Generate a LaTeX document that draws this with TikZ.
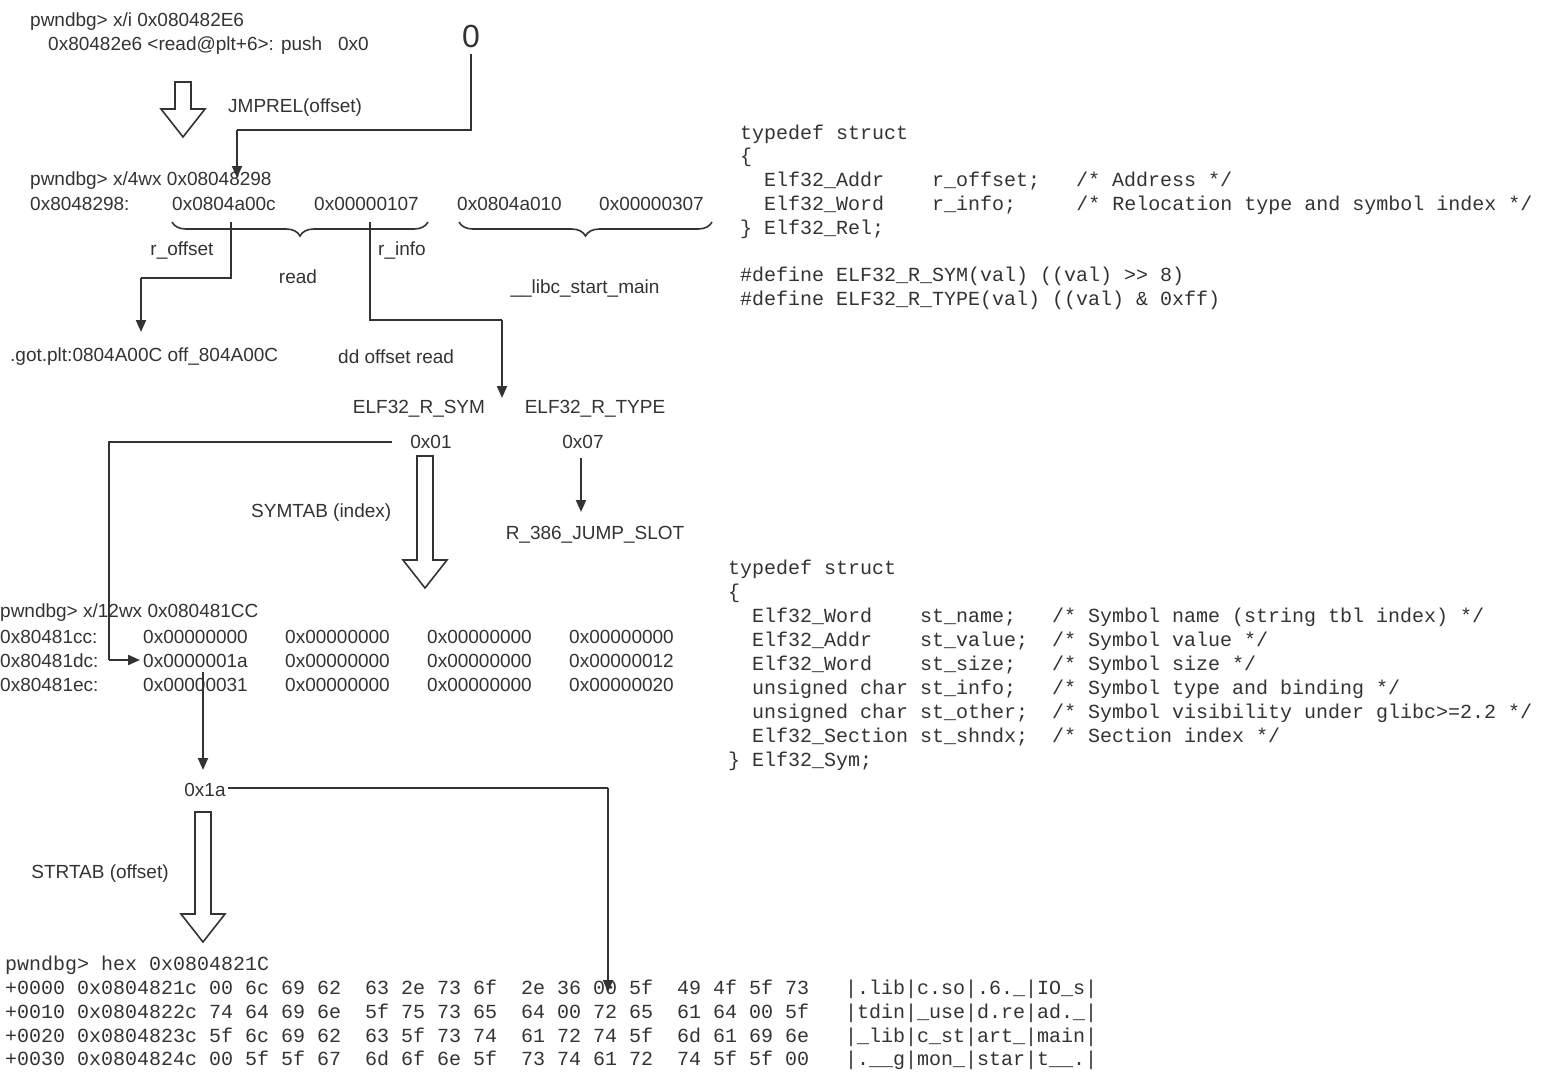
\documentclass[tikz,border=0pt]{standalone}
\usepackage{fontspec}
\setmainfont{Liberation Sans}
\newfontfamily\mono{Liberation Mono}
\usetikzlibrary{arrows.meta,decorations.pathreplacing}
\begin{document}
\begin{tikzpicture}[x=1pt,y=-1pt,
  t/.style={anchor=west,inner sep=0,font=\fontsize{19}{19}\selectfont,text=black!80},
  c/.style={t,anchor=center},
  m/.style={anchor=west,inner sep=0,font=\mono\fontsize{20}{20}\selectfont,text=black!80},
  ln/.style={draw=black!80,line width=2pt},
  ar/.style={ln,-{Triangle[length=12pt,width=10pt]}},
  br/.style={draw=black!80,line width=1.6pt,decorate,decoration={brace,mirror,amplitude=14pt}}]
\useasboundingbox (0,0) rectangle (1551,1073);
\newcommand\hollow[3]{% x, ytop, ybottom
  \draw[draw=black!80,line width=1.6pt,fill=white] (#1-8,#2) -- (#1+8,#2) -- (#1+8,#3-28) -- (#1+22,#3-28) -- (#1,#3) -- (#1-22,#3-28) -- (#1-8,#3-28) -- cycle;}
% top
\node[t] (l1) at (30,22) {pwndbg> x/i 0x080482E6};
\node[t] (l2) at (48,46) {0x80482e6 <read@plt+6>: push~~~0x0};
\node[c,font=\fontsize{32}{32}\selectfont] (zero) at (471,36) {0};
\hollow{183}{82}{137}
\node[t] (jmp) at (228,108) {JMPREL(offset)};
\coordinate (j1) at (471,130); \coordinate (j2) at (237,130); \coordinate (j3) at (237,178);
\draw[ln] (zero.south) ++(0,6) -- (j1) -- (j2);
\draw[ar] (j2) -- (j3);
\node[t] (x4) at (30,181) {pwndbg> x/4wx 0x08048298};
\node[t] (a0) at (30,204) {0x8048298:};
\node[t] (v1) at (172,204) {0x0804a00c};
\node[t] (v2) at (314,204) {0x00000107};
\node[t] (v3) at (457,204) {0x0804a010};
\node[t] (v4) at (599,204) {0x00000307};
\draw[br] (172,222) -- (428,222);
\draw[br] (459,222) -- (712,222);
\node[c] (roff) at (182,251) {r\_offset};
\node[c] (read) at (298,277) {read};
\node[c] (rinf) at (402,251) {r\_info};
\node[c] (libc) at (585,289) {\_\_libc\_start\_main};
\coordinate (o1) at (231,222); \coordinate (o2) at (231,278); \coordinate (o3) at (141,278); \coordinate (o4) at (141,332);
\draw[ln] (o1) -- (o2) -- (o3); \draw[ar] (o3) -- (o4);
\coordinate (i1) at (370,222); \coordinate (i2) at (370,320); \coordinate (i3) at (502,320); \coordinate (i4) at (502,398);
\draw[ln] (i1) -- (i2) -- (i3); \draw[ar] (i3) -- (i4);
\node[t] (got) at (10,357) {.got.plt:0804A00C off\_804A00C};
\node[t] (dd) at (338,357) {dd offset read};
\node[c] (sym) at (419,409) {ELF32\_R\_SYM};
\node[c] (typ) at (595,409) {ELF32\_R\_TYPE};
\node[c] (s01) at (431,442) {0x01};
\node[c] (s07) at (583,442) {0x07};
\node[c] (jmps) at (595,535) {R\_386\_JUMP\_SLOT};
\coordinate (r7) at (581,512);
\draw[ar] (581,458) -- (r7);
\hollow{425}{456}{588}
\node[t] (symtab) at (251,513) {SYMTAB (index)};
\coordinate (y1) at (392,442); \coordinate (y2) at (109,442); \coordinate (y3) at (109,660); \coordinate (y4) at (140,660);
\draw[ln] (y1) -- (y2) -- (y3); \draw[ar] (y3) -- (y4);
% symtab dump
\node[t] (x12) at (0,613) {pwndbg> x/12wx 0x080481CC};
\foreach \y/\a/\b/\c/\d/\e [count=\i] in {637/0x80481cc:/0x00000000/0x00000000/0x00000000/0x00000000,
  661/0x80481dc:/0x0000001a/0x00000000/0x00000000/0x00000012,
  685/0x80481ec:/0x00000031/0x00000000/0x00000000/0x00000020}{
  \node[t] (sa\i) at (0,\y) {\a};
  \node[t] (sb\i) at (143,\y) {\b};
  \node[t] (sc\i) at (285,\y) {\c};
  \node[t] (sd\i) at (427,\y) {\d};
  \node[t] (se\i) at (569,\y) {\e};}
\coordinate (q1) at (203,672); \coordinate (q2) at (203,770);
\draw[ar] (q1) -- (q2);
\node[c] (x1a) at (205,790) {0x1a};
\coordinate (p1) at (228,788); \coordinate (p2) at (608,788); \coordinate (p3) at (608,992);
\draw[ln] (p1) -- (p2); \draw[ar] (p2) -- (p3);
\hollow{203}{812}{942}
\node[c] (strtab) at (100,874) {STRTAB (offset)};
% hex dump
\node[m] (h0) at (5,965) {pwndbg> hex 0x0804821C};
\node[m] (h1) at (5,989) {+0000 0x0804821c~00 6c 69 62~~63 2e 73 6f~~2e 36 00 5f~~49 4f 5f 73~~~|.lib|c.so|.6.\_|IO\_s|};
\node[m] (h2) at (5,1013) {+0010 0x0804822c~74 64 69 6e~~5f 75 73 65~~64 00 72 65~~61 64 00 5f~~~|tdin|\_use|d.re|ad.\_|};
\node[m] (h3) at (5,1037) {+0020 0x0804823c~5f 6c 69 62~~63 5f 73 74~~61 72 74 5f~~6d 61 69 6e~~~|\_lib|c\_st|art\_|main|};
\node[m] (h4) at (5,1060) {+0030 0x0804824c~00 5f 5f 67~~6d 6f 6e 5f~~73 74 61 72~~74 5f 5f 00~~~|.\_\_g|mon\_|star|t\_\_.|};
% struct Rel
\node[m] (r1) at (740,134) {typedef struct};
\node[m] (r2) at (740,157) {\{};
\node[m] (r3) at (740,181) {~~Elf32\_Addr~~~~r\_offset;~~~/* Address */};
\node[m] (r4) at (740,205) {~~Elf32\_Word~~~~r\_info;~~~~~/* Relocation type and symbol index */};
\node[m] (r5) at (740,229) {\} Elf32\_Rel;};
\node[m] (r6) at (740,276) {\#define ELF32\_R\_SYM(val) ((val) >> 8)};
\node[m] (r7n) at (740,300) {\#define ELF32\_R\_TYPE(val) ((val) \& 0xff)};
% struct Sym
\node[m] (k1) at (728,569) {typedef struct};
\node[m] (k2) at (728,593) {\{};
\node[m] (k3) at (728,617) {~~Elf32\_Word~~~~st\_name;~~~/* Symbol name (string tbl index) */};
\node[m] (k4) at (728,641) {~~Elf32\_Addr~~~~st\_value;~~/* Symbol value */};
\node[m] (k5) at (728,665) {~~Elf32\_Word~~~~st\_size;~~~/* Symbol size */};
\node[m] (k6) at (728,689) {~~unsigned char st\_info;~~~/* Symbol type and binding */};
\node[m] (k7) at (728,713) {~~unsigned char st\_other;~~/* Symbol visibility under glibc>=2.2 */};
\node[m] (k8) at (728,737) {~~Elf32\_Section st\_shndx;~~/* Section index */};
\node[m] (k9) at (728,761) {\} Elf32\_Sym;};
\end{tikzpicture}
\end{document}
